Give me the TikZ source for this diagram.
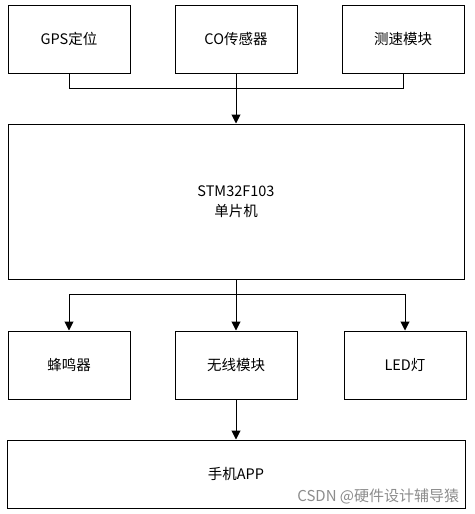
\documentclass[tikz,border=0pt]{standalone}
\usepackage{fontspec}
\newfontfamily\cjk{Noto Sans CJK SC}
\usetikzlibrary{positioning,arrows.meta}

\tikzset{
  block/.style={draw, line width=1pt, minimum width=122pt, minimum height=68pt,
    inner sep=0pt, font=\cjk\fontsize{14.5}{20}\selectfont, align=center},
  wide/.style={block, minimum width=456pt},
  arr/.style={-{Triangle[length=9pt,width=9pt]}},
}

\begin{document}
\begin{tikzpicture}[x=1pt, y=1pt, line width=1pt]
    \useasboundingbox (0,0) rectangle (474,-514);
    \node[block] at (236,-39)             (co)     {CO传感器};
    \node[block, left=44pt of co]         (gps)    {GPS定位};
    \node[block, right=44pt of co]        (speed)  {测速模块};
    \node[wide, minimum height=155pt, below=50pt of co] (mcu) {STM32F103\\单片机};
    \node[block, below=51pt of mcu]       (wifi)   {无线模块};
    \node[block, left=44pt of wifi]       (buzzer) {蜂鸣器};
    \node[block, right=46pt of wifi]      (led)    {LED灯};
    \node[wide, minimum width=458pt, below=40pt of wifi] (app) {手机APP};
    \node[anchor=east, text=black!45, font=\cjk\fontsize{15}{18}\selectfont]
         at (463,-496) (mark) {CSDN @硬件设计辅导猿};
    % inputs
    \draw (gps.south) -- ++(0,-15) -| (speed.south);
    \draw[arr] (co.south) -- (mcu.north);
    % outputs
    \draw[arr] (mcu.south) -- ++(0,-15) -| (buzzer.north);
    \draw[arr] (mcu.south) -- ++(0,-15) -| (led.north);
    \draw[arr] (mcu.south) -- (wifi.north);
    \draw[arr] (wifi.south) -- (app.north);
\end{tikzpicture}
\end{document}
